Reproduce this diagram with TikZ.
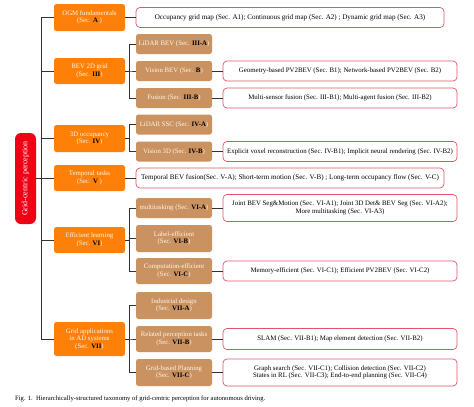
\documentclass[tikz,border=0pt]{standalone}
\usepackage{fontspec}
\setmainfont{Liberation Serif}
\definecolor{orangeA}{RGB}{255,128,8}
\definecolor{brownB}{RGB}{201,146,96}
\definecolor{rootred}{RGB}{240,0,20}
\definecolor{leafred}{RGB}{226,84,104}
\definecolor{linegray}{RGB}{50,50,50}
\definecolor{cream}{RGB}{255,246,232}
\newcommand\sn[1]{\textcolor{black}{\textbf{#1}}}
\begin{document}
\begin{tikzpicture}[x=1pt,y=1pt,
  lone/.style={fill=orangeA, rounded corners=2.5pt, minimum width=71pt, text=cream, align=center, font=\fontsize{6.8}{7.4}\selectfont, inner sep=1pt},
  ltwo/.style={fill=brownB, rounded corners=2.5pt, minimum width=76pt, text=cream, align=center, font=\fontsize{6.8}{7.4}\selectfont, inner sep=1pt},
  leafA/.style={draw=leafred, line width=0.7pt, fill=white, rounded corners=4pt, minimum width=308pt, align=center, font=\fontsize{7.1}{7.6}\selectfont, inner sep=1pt},
  leafB/.style={draw=leafred, line width=0.7pt, fill=white, rounded corners=4pt, minimum width=234pt, align=center, font=\fontsize{6.85}{7.3}\selectfont, inner sep=1pt},
  conn/.style={draw=linegray, line width=0.6pt}]
\useasboundingbox (0,0) rectangle (474,-407);

% root
\node[fill=rootred, rounded corners=6pt, minimum width=91pt, minimum height=21pt, rotate=90, text=white, font=\fontsize{8}{9}\selectfont, inner sep=1pt] (root) at (25.5,-178.5) {Grid-centric perception};

% level 1
\node[lone, minimum height=27pt] (ogm) at (89.5,-17.5) {OGM fundamentals\\(Sec. \sn{A} )};
\node[lone, minimum height=26pt] (bev) at (89.5,-71) {BEV 2D grid\\(Sec. \sn{III})};
\node[lone, minimum height=27pt] (occ) at (89.5,-138.5) {3D occupancy\\(Sec. \sn{IV})};
\node[lone, minimum height=26pt] (temp) at (89.5,-178) {Temporal tasks\\(Sec. \sn{V} )};
\node[lone, minimum height=26pt] (eff) at (89.5,-240) {Efficient learning\\(Sec. \sn{VI})};
\node[lone, minimum height=34pt] (app) at (89.5,-339) {Grid applications\\in AD systems\\(Sec. \sn{VII})};

% level 2
\node[ltwo, minimum height=20pt] (lbev) at (174,-44) {LiDAR BEV (Sec. \sn{III-A})};
\node[ltwo, minimum height=20pt] (vbev) at (174,-71) {Vision BEV (Sec. \sn{B})};
\node[ltwo, minimum height=20pt] (fus) at (174,-98) {Fusion (Sec. \sn{III-B})};
\node[ltwo, minimum height=20pt] (lssc) at (174,-124.5) {LiDAR SSC (Sec. \sn{IV-A})};
\node[ltwo, minimum height=20pt] (vtd) at (174,-151.5) {Vision 3D (Sec. \sn{IV-B})};
\node[ltwo, minimum height=20pt] (mt) at (174,-208) {multitasking (Sec. \sn{VI-A})};
\node[ltwo, minimum height=27pt] (lab) at (174,-238.5) {Label-efficient\\(Sec. \sn{VI-B})};
\node[ltwo, minimum height=26pt] (comp) at (174,-271) {Computation-efficient\\(Sec. \sn{VI-C})};
\node[ltwo, minimum height=27pt] (ind) at (174,-305.5) {Industrial design\\(Sec. \sn{VII-A})};
\node[ltwo, minimum height=26pt] (rel) at (174,-339) {Related perception tasks\\(Sec. \sn{VII-B})};
\node[ltwo, minimum height=27pt] (plan) at (174,-372.5) {Grid-based Planning\\(Sec. \sn{VII-C})};

% leaves
\node[leafA, minimum height=20pt] (ogmL) at (290,-17.5) {Occupancy grid map (Sec. A1); Continuous grid map (Sec. A2) ; Dynamic grid map (Sec. A3)};
\node[leafA, minimum height=20pt] (tempL) at (290,-178) {Temporal BEV fusion(Sec. V-A); Short-term motion (Sec. V-B) ; Long-term occupancy flow (Sec. V-C)};
\node[leafB, minimum height=20pt] (vbevL) at (340,-71) {Geometry-based PV2BEV (Sec. B1); Network-based PV2BEV (Sec. B2)};
\node[leafB, minimum height=20pt] (fusL) at (340,-98) {Multi-sensor fusion (Sec. III-B1); Multi-agent fusion (Sec. III-B2)};
\node[leafB, minimum height=20pt] (vtdL) at (340,-151.5) {Explicit voxel reconstruction (Sec. IV-B1); Implicit neural rendering (Sec. IV-B2)};
\node[leafB, minimum height=27pt] (mtL) at (340,-208) {Joint BEV Seg\&Motion (Sec. VI-A1); Joint 3D Det\& BEV Seg (Sec. VI-A2);\\More multitasking (Sec. VI-A3)};
\node[leafB, minimum height=20pt] (compL) at (340,-271) {Memory-efficient (Sec. VI-C1); Efficient PV2BEV (Sec. VI-C2)};
\node[leafB, minimum height=21pt] (relL) at (340,-339) {SLAM (Sec. VII-B1); Map element detection (Sec. VII-B2)};
\node[leafB, minimum height=27pt] (planL) at (340,-372.5) {Graph search (Sec. VII-C1); Collision detection (Sec. VII-C2)\\States in RL (Sec. VII-C3); End-to-end planning (Sec. VII-C4)};

% connectors root -> level 1
\foreach \n in {ogm,bev,occ,temp,eff,app}
  \draw[conn] (root.south) -- ++(5.5,0) |- (\n.west);
% level 1 -> level 2
\foreach \n in {lbev,vbev,fus} \draw[conn] (bev.east) -- ++(4,0) |- (\n.west);
\foreach \n in {lssc,vtd} \draw[conn] (occ.east) -- ++(4,0) |- (\n.west);
\foreach \n in {mt,lab,comp} \draw[conn] (eff.east) -- ++(4,0) |- (\n.west);
\foreach \n in {ind,rel,plan} \draw[conn] (app.east) -- ++(4,0) |- (\n.west);
% to leaves
\draw[conn] (ogm.east) -- (ogmL.west);
\draw[conn] (temp.east) -- (tempL.west);
\draw[conn] (vbev.east) -- (vbevL.west);
\draw[conn] (fus.east) -- (fusL.west);
\draw[conn] (vtd.east) -- (vtdL.west);
\draw[conn] (mt.east) -- (mtL.west);
\draw[conn] (comp.east) -- (compL.west);
\draw[conn] (rel.east) -- (relL.west);
\draw[conn] (plan.east) -- (planL.west);

% caption
\node[anchor=west, inner sep=0pt, font=\fontsize{6.6}{7}\selectfont] (cap) at (15,-399) {Fig. 1.\enspace Hierarchically-structured taxonomy of grid-centric perception for autonomous driving.};
\end{tikzpicture}
\end{document}
